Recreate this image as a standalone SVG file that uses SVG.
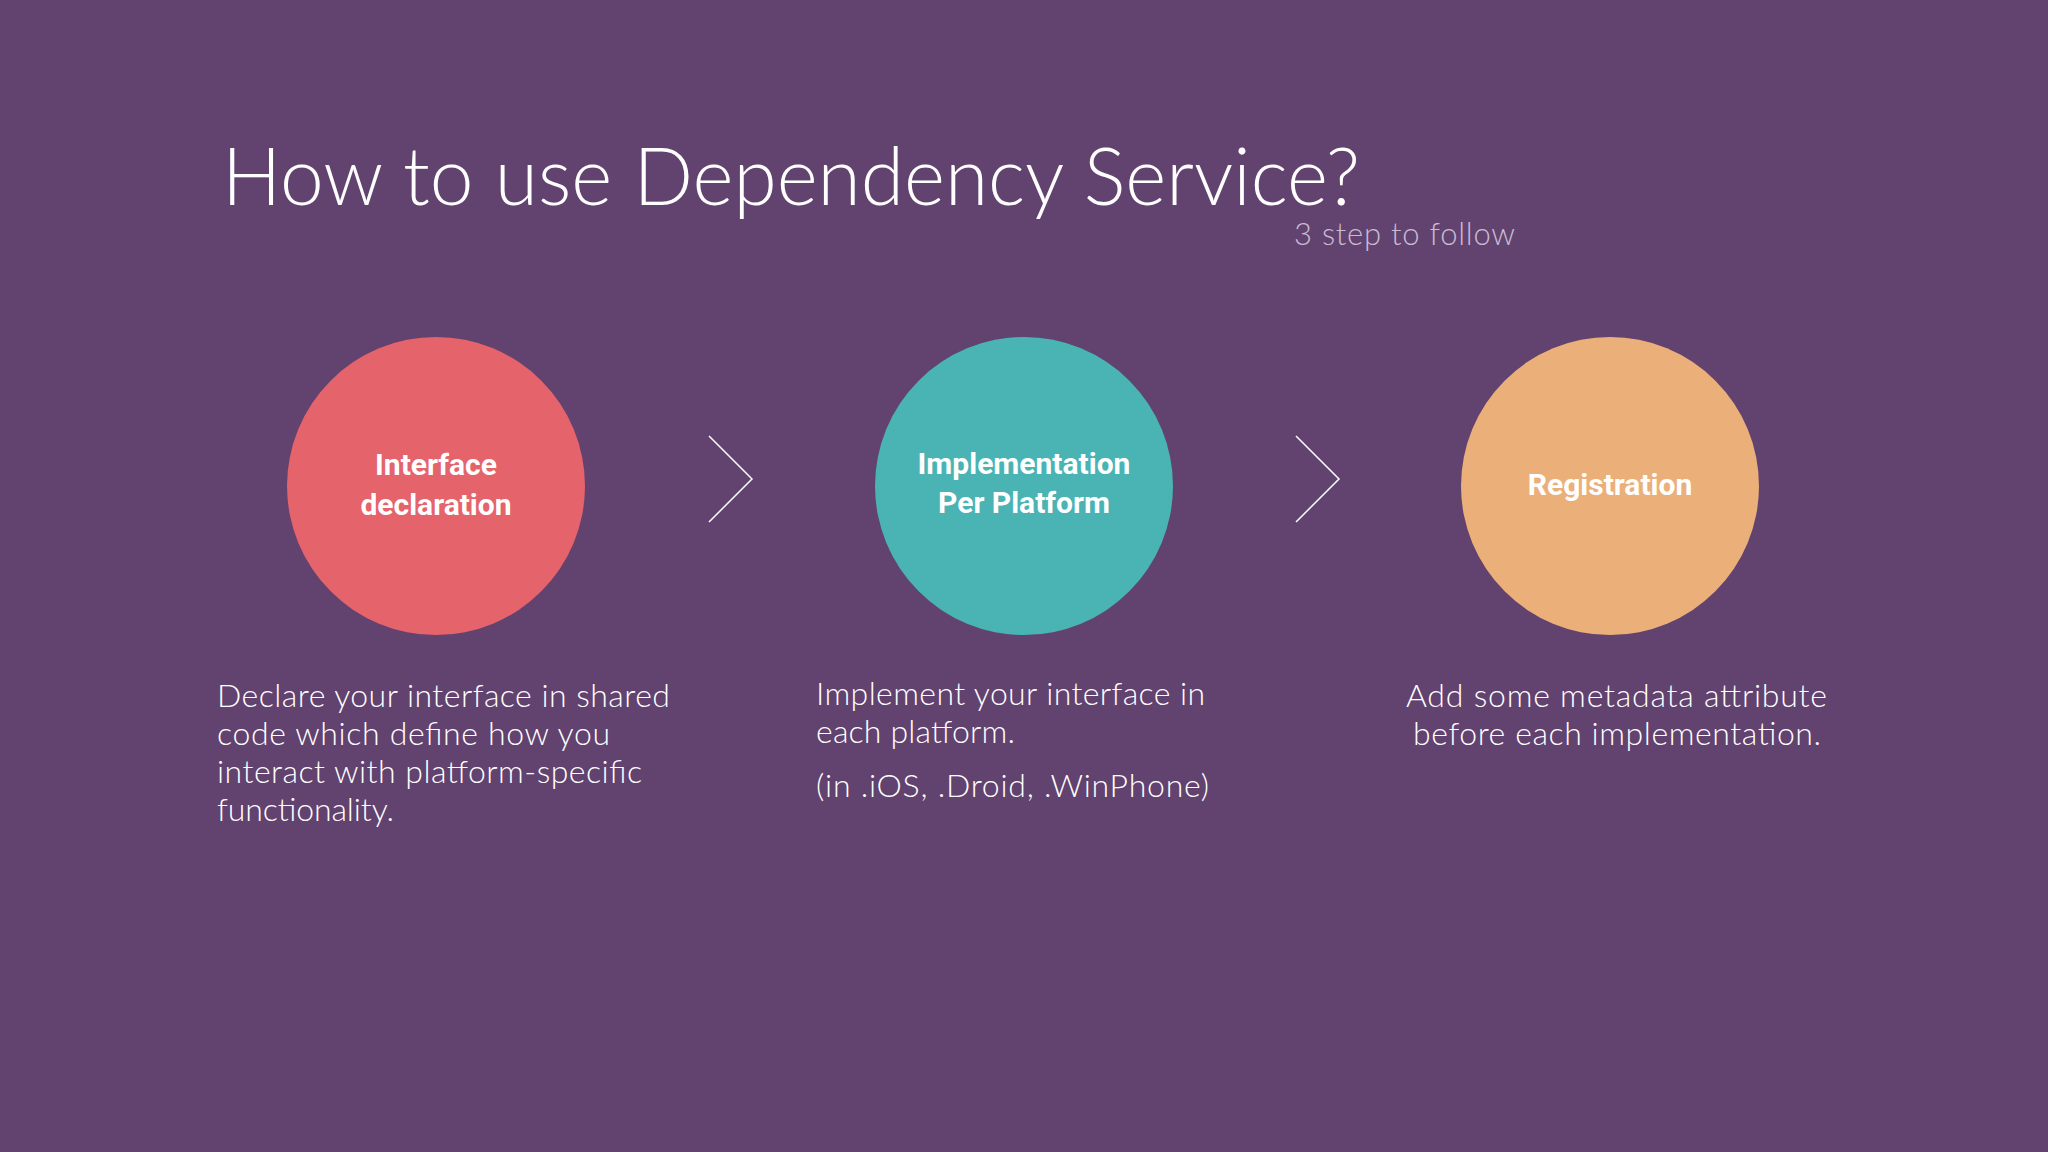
<svg xmlns="http://www.w3.org/2000/svg" width="2048" height="1152" viewBox="0 0 2048 1152">
<style>
.t{font-family:Lato,"Open Sans","Liberation Sans",sans-serif;font-weight:300;fill:#fff}
.b{font-family:"Liberation Sans Narrow",Roboto,"Liberation Sans",sans-serif;font-weight:bold;fill:#fff;font-size:30px;text-anchor:middle}
.d{font-family:Lato,"Open Sans","Liberation Sans",sans-serif;font-weight:300;fill:#fff;font-size:32px}
.c{fill:none;stroke:#fff;stroke-width:1.5}
</style>
<rect width="2048" height="1152" fill="#62426F"/>
<text class="t" x="222" y="205" font-size="80" textLength="1138" lengthAdjust="spacingAndGlyphs">How to use Dependency Service?</text>
<text class="t" x="1294" y="245" font-size="31" textLength="221" style="fill:#c9bcd2">3 step to follow</text>
<g id="n1"><circle cx="436" cy="486" r="149" fill="#E5636B"/>
<text class="b" x="436" y="475">Interface</text><text class="b" x="436" y="515">declaration</text></g>
<g id="n2"><circle cx="1024" cy="486" r="149" fill="#4AB3B4"/>
<text class="b" x="1024" y="474">Implementation</text><text class="b" x="1024" y="513">Per Platform</text></g>
<g id="n3"><circle cx="1610" cy="486" r="149" fill="#EBB07A"/>
<text class="b" x="1610" y="495">Registration</text></g>
<g id="connectors">
<polyline class="c" points="709,436 752,479 709,522"/>
<polyline class="c" points="1296,436 1339,479 1296,522"/>
</g>
<g id="desc">
<text class="d" x="217" y="707" textLength="453">Declare your interface in shared</text>
<text class="d" x="217" y="745" textLength="393">code which define how you</text>
<text class="d" x="217" y="783" textLength="425">interact with platform-specific</text>
<text class="d" x="217" y="821" textLength="177">functionality.</text>
<text class="d" x="816" y="705" textLength="389">Implement your interface in</text>
<text class="d" x="816" y="743" textLength="199">each platform.</text>
<text class="d" x="816" y="797" textLength="393">(in .iOS, .Droid, .WinPhone)</text>
<text class="d" x="1406" y="707" textLength="421">Add some metadata attribute</text>
<text class="d" x="1413" y="745" textLength="408">before each implementation.</text>
</g>
</svg>
